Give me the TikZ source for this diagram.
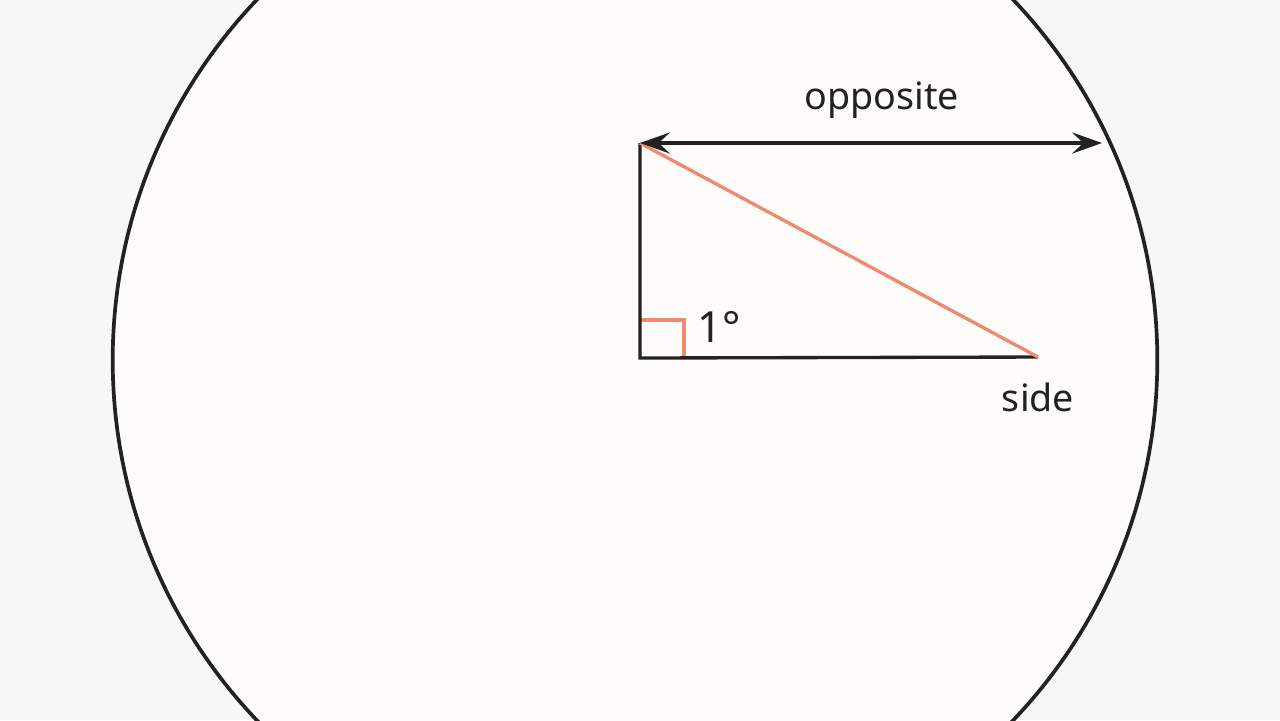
\documentclass[tikz,border=0pt]{standalone}
\usepackage{fontspec}
\setmainfont{Noto Sans}
\usetikzlibrary{arrows.meta}
\definecolor{bg}{HTML}{F7F7F7}
\definecolor{disc}{HTML}{FDFCFA}
\definecolor{ink}{HTML}{222222}
\definecolor{peach}{HTML}{EE8A6E}
\tikzset{
  blackline/.style={draw=ink,line width=0.95pt},
  orangeline/.style={draw=peach,line width=0.95pt},
  lbl/.style={inner sep=0pt,font=\fontsize{10.7}{13}\selectfont,text=ink},
  dimarrow/.style={{Stealth[length=8.5pt,width=6pt,inset=3.2pt]}-{Stealth[length=8.5pt,width=6pt,inset=3.2pt]}},
}
\begin{document}
\begin{tikzpicture}[x=0.01cm,y=-0.01cm]
\useasboundingbox (0,0) rectangle (1280,720);
\fill[bg] (0,0) rectangle (1280,720);
\begin{scope}
\clip (0,0) rectangle (1280,720);
\draw[blackline,fill=disc,line width=1.05pt] (635,360) circle[radius=5.22cm];
\end{scope}
\coordinate (C) at (640,358);
\coordinate (A) at (640,143);
\coordinate (B) at (1038,357);
\coordinate (E) at (1102,143);
\draw[orangeline] (640,320) -| (684,358);
\draw[blackline] (A) -- (C) -- (B);
\draw[orangeline] (A) -- (B);
\draw[blackline,dimarrow] (A) -- (E);
\node[lbl] (opp) at (882,100) {opposite};
\node[lbl] (side) at (1038,397) {side};
\node[lbl,font=\fontsize{12.2}{15}\selectfont] (ang) at (719,327) {1°};
\end{tikzpicture}
\end{document}
